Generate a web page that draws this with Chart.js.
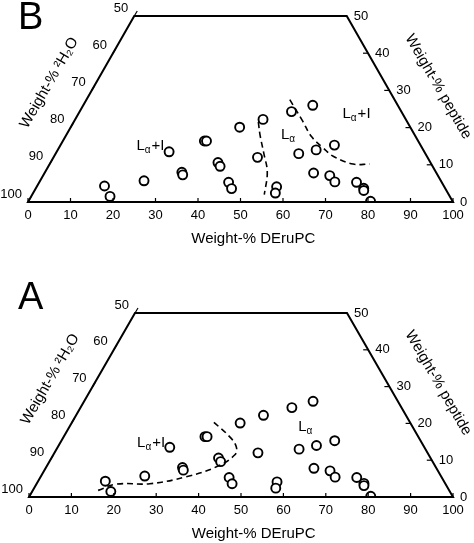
<!DOCTYPE html>
<html>
<head>
<meta charset="utf-8">
<script src="https://cdn.jsdelivr.net/npm/chart.js@4.4.0/dist/chart.umd.min.js"></script>
<style>
  body { margin: 0; background: #fff; }
  canvas { display: block; }
</style>
</head>
<body>
<canvas id="chartB" width="474" height="270"></canvas>
<canvas id="chartA" width="474" height="273"></canvas>
<script>
// sample positions: x = position along DEruPC axis, y = weight-% peptide
const sampleX = [18, 19.3, 27.3, 33.2, 36.2, 36.4, 41.5, 42, 44.7, 45.2, 47.2, 47.9, 49.8, 54, 55.3,
                 58.5, 58.2, 62, 63.7, 67, 67.8, 67.2, 71, 72.1, 72.2, 77.3, 79, 79, 80.6];
const samplePeptide = [4.3, 1.5, 5.7, 13.5, 8, 7.3, 16.4, 16.4, 10.6, 9.6, 5.3, 3.6, 20.1, 12, 22.2,
                       4.1, 2.4, 24.3, 13, 26, 14, 7.8, 7.1, 15.3, 5.4, 5.3, 3.7, 3.1, 0.2];

// phase boundaries
const bLine1X = [54.2, 54.6, 55.5, 56.3, 55.6];
const bLine1Y = [21.5, 18, 13, 8, 2];
const bLine2X = [61.6, 64.5, 66.7, 69.5, 71.8, 76.5, 80.4];
const bLine2Y = [27.5, 22, 17.6, 14.5, 12.3, 10.2, 10.2];
const aLineX = [16.3, 20.6, 28.5, 37.1, 44.2, 48.5, 48.9, 47.3, 43.4];
const aLineY = [1.8, 3.5, 3.6, 5.5, 8.2, 11.4, 13.6, 16.4, 20.5];

const bottomTicks = [0, 10, 20, 30, 40, 50, 60, 70, 80, 90, 100];
const peptideTicks = [0, 10, 20, 30, 40, 50];

function pts(xs, ys) { return xs.map((x, i) => ({ x: x, y: ys[i] })); }

function phaseLabel(ctx, x, y, plus) {
  ctx.font = '15px "Liberation Sans", Arial, sans-serif';
  ctx.textAlign = 'left';
  ctx.textBaseline = 'alphabetic';
  ctx.fillText('L', x, y);
  let w = ctx.measureText('L').width;
  ctx.font = '10px "Liberation Sans", Arial, sans-serif';
  ctx.fillText('α', x + w, y + 3);
  w += ctx.measureText('α').width;
  if (plus) {
    ctx.font = '15px "Liberation Sans", Arial, sans-serif';
    ctx.fillText('+I', x + w + 1, y);
  }
}

const framePlugin = {
  id: 'frame',
  afterDraw(chart, args, opts) {
    const ctx = chart.ctx;
    const xs = chart.scales.x, ys = chart.scales.y;
    const px = v => xs.getPixelForValue(v);
    const py = v => ys.getPixelForValue(v);
    ctx.save();
    ctx.strokeStyle = '#000';
    ctx.fillStyle = '#000';
    ctx.lineWidth = 2;
    ctx.beginPath();
    ctx.moveTo(px(0), py(0));
    ctx.lineTo(px(25), py(50));
    ctx.lineTo(px(75), py(50));
    ctx.lineTo(px(100), py(0));
    ctx.closePath();
    ctx.stroke();

    ctx.lineWidth = 1.2;
    ctx.font = '13px "Liberation Sans", Arial, sans-serif';
    // bottom axis
    ctx.textAlign = 'center';
    ctx.textBaseline = 'top';
    bottomTicks.forEach(t => {
      ctx.beginPath();
      ctx.moveTo(px(t), py(0));
      ctx.lineTo(px(t), py(0) - 4);
      ctx.stroke();
      ctx.fillText(String(t), px(t), py(0) + 7);
    });
    // right axis (peptide)
    ctx.textAlign = 'left';
    ctx.textBaseline = 'middle';
    peptideTicks.forEach(t => {
      const x = px(100 - t / 2), y = py(t);
      ctx.beginPath();
      ctx.moveTo(x, y);
      ctx.lineTo(x - 5, y);
      ctx.stroke();
      ctx.fillText(String(t), x + 7, y);
    });
    // left axis (water)
    ctx.textAlign = 'right';
    peptideTicks.forEach(t => {
      const x = px(t / 2), y = py(t);
      ctx.beginPath();
      ctx.moveTo(x, y);
      ctx.lineTo(x + 3, y - 5);
      ctx.stroke();
      ctx.fillText(String(100 - t), x - 6, y - 8);
    });

    ctx.font = '15px "Liberation Sans", Arial, sans-serif';
    ctx.textAlign = 'center';
    ctx.textBaseline = 'middle';
    ctx.fillText('Weight-% DEruPC', px(53), py(0) + 37);

    ctx.save();
    ctx.translate(px(5), py(32));
    ctx.rotate(-Math.PI / 3);
    ctx.fillText('Weight-% ²H₂O', 0, 0);
    ctx.restore();

    ctx.save();
    ctx.translate(px(96.5), py(31));
    ctx.rotate(Math.PI / 3);
    ctx.fillText('Weight-% peptide', 0, 0);
    ctx.restore();

    ctx.font = '38px "Liberation Sans", Arial, sans-serif';
    ctx.textAlign = 'left';
    ctx.textBaseline = 'top';
    ctx.fillText(opts.letter, 18, opts.letterY);

    opts.labels.forEach(l => phaseLabel(ctx, px(l[0]), py(l[1]), l[2]));
    ctx.restore();
  }
};

function makeChart(id, letter, letterY, padding, lines, labels) {
  const datasets = lines.map(l => ({
    data: pts(l[0], l[1]),
    showLine: true,
    borderColor: '#000',
    borderWidth: 1.6,
    borderDash: [6, 4],
    pointRadius: 0,
    tension: 0.4,
    fill: false
  }));
  datasets.push({
    data: pts(sampleX, samplePeptide),
    pointStyle: 'circle',
    pointRadius: 4.5,
    pointBorderWidth: 1.9,
    pointBorderColor: '#000',
    pointBackgroundColor: '#fff',
    showLine: false
  });
  return new Chart(document.getElementById(id), {
    type: 'scatter',
    data: { datasets: datasets },
    options: {
      responsive: false,
      animation: false,
      layout: { padding: padding },
      scales: {
        x: { type: 'linear', min: 0, max: 100, display: false },
        y: { type: 'linear', min: 0, max: 50, display: false }
      },
      plugins: {
        legend: { display: false },
        tooltip: { enabled: false },
        frame: { letter: letter, letterY: letterY, labels: labels }
      }
    },
    plugins: [framePlugin]
  });
}

makeChart('chartB', 'B', 0, { left: 28, right: 21, top: 16, bottom: 68 },
  [[bLine1X, bLine1Y], [bLine2X, bLine2Y]],
  [[25.5, 14, true], [59.5, 17, false], [74, 22.5, true]]);

makeChart('chartA', 'A', 10, { left: 29, right: 21, top: 43, bottom: 46 },
  [[aLineX, aLineY]],
  [[25.5, 13.5, true], [63.5, 17.8, false]]);
</script>
</body>
</html>
